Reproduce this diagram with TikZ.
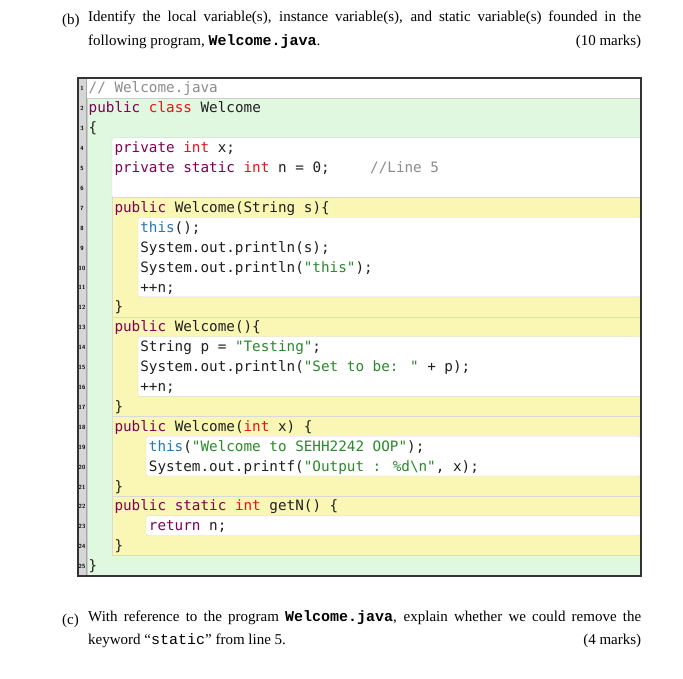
\documentclass[tikz,border=0pt]{standalone}
\usepackage{fontspec}
\setmainfont{Liberation Serif}
\newfontfamily\codefont{DejaVu Sans Mono}[Scale=1]
\newfontfamily\boldmono{Liberation Mono}
\begin{document}
\begin{tikzpicture}[x=1pt,y=-1pt,
  codeline/.style={anchor=base west,inner sep=0pt,font=\codefont\fontsize{14.3}{16}\selectfont},
  lnum/.style={anchor=base,inner sep=0pt,font=\sffamily\bfseries\fontsize{6}{6}\selectfont},
  para/.style={anchor=north west,inner sep=0pt,text width=553pt,align=justify,font=\fontsize{15}{23.5}\selectfont}]
\definecolor{kw}{HTML}{7F0055}
\definecolor{rd}{HTML}{E2141C}
\definecolor{th}{HTML}{2378B5}
\definecolor{st}{HTML}{2A8A2A}
\definecolor{cm}{HTML}{8C8C8C}
\definecolor{gr}{HTML}{E0F7E0}
\definecolor{yl}{HTML}{FAF6B4}
\definecolor{gut}{HTML}{D6D6D6}
\definecolor{tx}{HTML}{202020}
\useasboundingbox (0,0) rectangle (683,679);
\fill[white] (0,0) rectangle (683,679);
% header text
\node[anchor=base west,inner sep=0pt,font=\fontsize{15}{17}\selectfont] (lb) at (62,25) {(b)};
\node[para] (pb) at (88,11) {Identify the local variable(s), instance variable(s), and static variable(s) founded in the\linebreak following program, {\boldmono\bfseries Welcome.java}.\hfill(10 marks)};
% backgrounds
\fill[white] (78,78) rectangle (641,576);
\fill[gr,draw=gray!40] (87,{78+19.9}) rectangle (641,576);
\fill[white,draw=gray!30,rounded corners=2pt] (112,{78+3*19.9}) rectangle (641,{78+6*19.9});
\foreach \a/\b in {7/12,13/17,18/21,22/24}{
  \fill[yl,draw=gray!30] (112,{78+(\a-1)*19.9}) rectangle (641,{78+\b*19.9});}
\foreach \a/\b/\x in {8/11/138,14/16/138,19/20/146,23/23/146}{
  \fill[white,draw=gray!30,rounded corners=2pt] (\x,{78+(\a-1)*19.9}) rectangle (641,{78+\b*19.9});}
\fill[gut] (78,78) rectangle (86,576);
\draw[gray!70] (86,78) -- (86,576);
\draw[black!80,line width=1.2pt] (78,78) rectangle (641,576);
\foreach \i in {1,...,25}{\node[lnum] (n\i) at (82,{78+(\i-1)*19.9+13}) {\i};}
% code lines
\def\L#1#2#3{\node[codeline] (c#1) at ({88.5+#2*8.6},{78+(#1-1)*19.9+15}) {#3};}
\L{1}{0}{\color{cm}// Welcome.java}
\L{2}{0}{\color{kw}public \color{rd}class \color{tx}Welcome}
\L{3}{0}{\color{tx}\{}
\L{4}{3}{\color{kw}private \color{rd}int \color{tx}x;}
\L{5}{3}{\color{kw}private static \color{rd}int \color{tx}n = 0;}
\node[codeline] (cm5) at (370,{78+4*19.9+15}) {\color{cm}//Line 5};
\L{7}{3}{\color{kw}public \color{tx}Welcome(String s)\{}
\L{8}{6}{\color{th}this\color{tx}();}
\L{9}{6}{\color{tx}System.out.println(s);}
\L{10}{6}{\color{tx}System.out.println(\color{st}"this"\color{tx});}
\L{11}{6}{\color{tx}++n;}
\L{12}{3}{\color{tx}\}}
\L{13}{3}{\color{kw}public \color{tx}Welcome()\{}
\L{14}{6}{\color{tx}String p = \color{st}"Testing"\color{tx};}
\L{15}{6}{\color{tx}System.out.println(\color{st}"Set to be: "\color{tx}\ + p);}
\L{16}{6}{\color{tx}++n;}
\L{17}{3}{\color{tx}\}}
\L{18}{3}{\color{kw}public \color{tx}Welcome(\color{rd}int \color{tx}x) \{}
\L{19}{7}{\color{th}this\color{tx}(\color{st}"Welcome to SEHH2242 OOP"\color{tx});}
\L{20}{7}{\color{tx}System.out.printf(\color{st}"Output : \%d\textbackslash n"\color{tx}, x);}
\L{21}{3}{\color{tx}\}}
\L{22}{3}{\color{kw}public static \color{rd}int \color{tx}getN() \{}
\L{23}{7}{\color{kw}return \color{tx}n;}
\L{24}{3}{\color{tx}\}}
\L{25}{0}{\color{tx}\}}
% part c
\node[anchor=base west,inner sep=0pt,font=\fontsize{15}{17}\selectfont] (lc) at (62,624) {(c)};
\node[para] (pc) at (88,610) {With reference to the program {\boldmono\bfseries Welcome.java}, explain whether we could remove the\linebreak keyword ``{\boldmono static}'' from line 5.\hfill(4 marks)};
\end{tikzpicture}
\end{document}
